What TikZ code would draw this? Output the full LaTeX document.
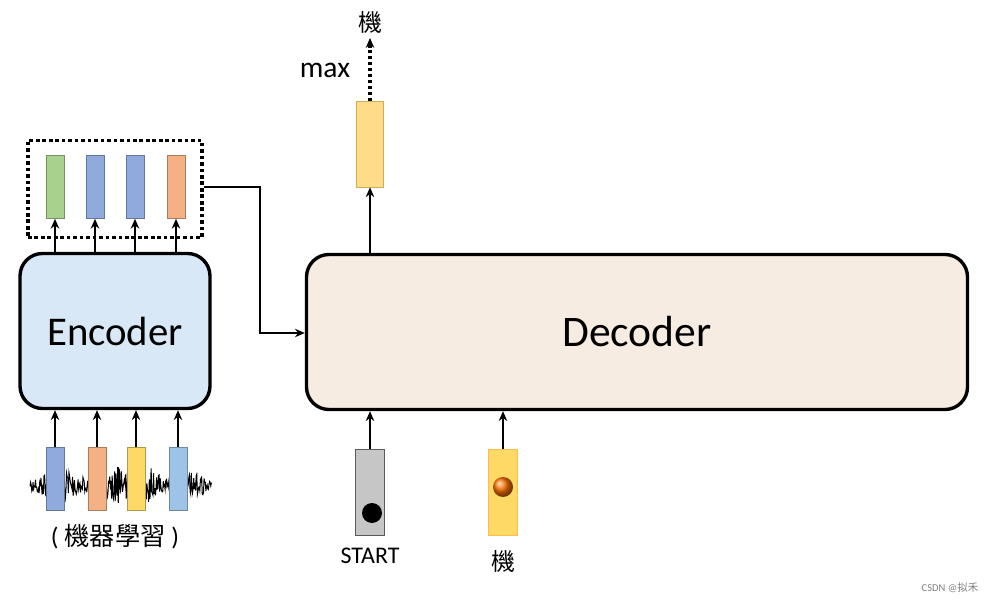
\documentclass[tikz,border=0pt]{standalone}
\usepackage{fontspec}
\setmainfont{Carlito}
\newfontfamily\cjk{Noto Sans CJK TC}
\usetikzlibrary{arrows.meta}
\definecolor{encfill}{HTML}{D9E8F6}
\definecolor{decfill}{HTML}{F7ECE2}
\definecolor{vgreen}{HTML}{A9D18E}
\definecolor{vblue}{HTML}{8FAADC}
\definecolor{vorange}{HTML}{F4B183}
\definecolor{vyellow}{HTML}{FFD966}
\definecolor{vlblue}{HTML}{9DC3E6}
\definecolor{vout}{HTML}{FFDB8A}
\begin{document}
\begin{tikzpicture}[x=0.025cm,y=-0.025cm,
  box/.style={draw=black,line width=2.4pt,rounded corners=16pt},
  vec/.style={draw=#1!70!black,fill=#1,minimum width=18*0.025cm,minimum height=63*0.025cm,inner sep=0pt},
  arr/.style={-{Stealth[length=7pt,width=6pt]},line width=1.7pt},
  lbl/.style={font=\fontsize{17}{20}\selectfont}]
\useasboundingbox (0,0) rectangle (994,603);
% waveform
\pgfmathsetseed{7}
\draw[line width=0.7pt] plot[domain=30:212,samples=300] (\x,{485+(rand*(3+12*exp(-((\x-60)/25)^2)+15*exp(-((\x-118)/15)^2)+15*exp(-((\x-150)/12)^2)+13*exp(-((\x-195)/10)^2)))});
% encoder
\node[box,fill=encfill,minimum width=190*0.025cm,minimum height=155*0.025cm,font=\fontsize{29}{33}\selectfont] (enc) at (115,331) {Encoder};
\node[draw,dotted,line width=2.6pt,minimum width=174*0.025cm,minimum height=97*0.025cm] (dots) at (115,189) {};
\foreach \x/\c [count=\i] in {55/vgreen,95/vblue,135/vblue,176/vorange}{
  \node[vec=\c] (h\i) at (\x,187) {};
  \draw[arr] (enc.north -| h\i) -- (h\i.south);
}
\foreach \x/\c [count=\i] in {55/vblue,97/vorange,136/vyellow,178/vlblue}{
  \node[vec=\c] (x\i) at (\x,479) {};
  \draw[arr] (x\i.north) -- (enc.south -| x\i);
}
\node[font=\fontsize{18}{21}\selectfont] (inlab) at (115,537) {( {\cjk 機器學習} )};
% decoder
\node[box,fill=decfill,minimum width=661*0.025cm,minimum height=155*0.025cm,font=\fontsize{31}{35}\selectfont] (dec) at (637,332) {Decoder};
\coordinate (c1) at (260,187);
\coordinate (c2) at (260,333);
\draw[arr] (dots.east |- c1) -- (c1) -- (c2) -- (dec.west |- c2);
% output
\node[draw=vyellow!80!black,fill=vout,minimum width=27*0.025cm,minimum height=86*0.025cm,inner sep=0pt] (out) at (370,144) {};
\draw[arr] (dec.north -| out) -- (out.south);
\node[font=\fontsize{17}{20}\selectfont\cjk] (o) at (370,22) {機};
\draw[dotted,line width=2.2pt,-{Stealth[length=7pt,width=6pt]}] (out.north) -- (o.south);
\node[font=\fontsize{21}{24}\selectfont] (max) at (325,70) {max};
% start
\node[draw=gray!70!black,fill=gray!45,minimum width=29*0.025cm,minimum height=86*0.025cm,inner sep=0pt] (st) at (370,492) {};
\fill (372,513) circle (10*0.025cm);
\draw[arr] (st.north) -- (dec.south -| st);
\node[lbl] (stl) at (370,556) {START};
\node[draw=vyellow!70!orange,fill=vyellow,minimum width=29*0.025cm,minimum height=86*0.025cm,inner sep=0pt] (k) at (503,492) {};
\shade[ball color=orange!90!red] (503,487) circle (10*0.025cm);
\draw[arr] (k.north) -- (dec.south -| k);
\node[font=\fontsize{17}{20}\selectfont\cjk] (kl) at (503,561) {機};
\node[text=gray,font=\fontsize{7.5}{9}\selectfont] (wm) at (950,588) {CSDN @{\cjk 拟禾}};
\end{tikzpicture}
\end{document}
